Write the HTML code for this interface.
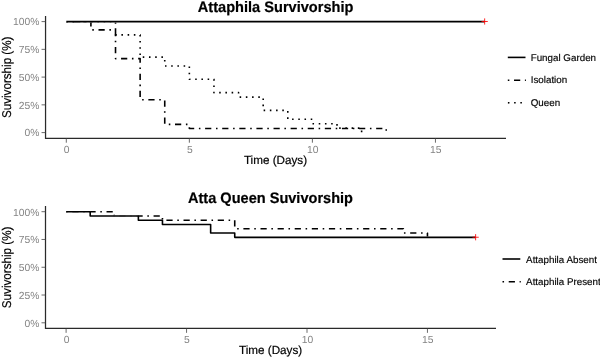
<!DOCTYPE html>
<html><head><meta charset="utf-8"><title>Survivorship</title>
<style>
html,body{margin:0;padding:0;background:#fff;}
svg{display:block;}
text{font-family:"Liberation Sans",Arial,Helvetica,sans-serif;text-rendering:geometricPrecision;}
.title{font-size:15.1px;font-weight:bold;fill:#000;stroke:#000;stroke-width:0.2;}
.axl{font-size:11.7px;fill:#000;stroke:#000;stroke-width:0.2;}
.tick{font-size:10.3px;fill:#848484;}
.leg{font-size:9.8px;fill:#000;stroke:#000;stroke-width:0.15;}
.ax{stroke:#2a2a2a;stroke-width:1.25;fill:none;}
.tk{stroke:#444;stroke-width:0.8;fill:none;}
.ln{stroke:#000;stroke-width:1.6;fill:none;stroke-linejoin:round;}
</style></head><body>
<svg width="600" height="357" viewBox="0 0 600 357">
<rect width="600" height="357" fill="#fff"/>

<text class="title" x="275.6" y="12.3" text-anchor="middle" textLength="155.6" lengthAdjust="spacingAndGlyphs">Attaphila Survivorship</text>
<path class="ax" d="M45.55 16.1V138.3H506"/>
<path class="tk" d="M41.55 132.60H45.55"/>
<text class="tick" x="39.44" y="136.40" text-anchor="end">0%</text>
<path class="tk" d="M41.55 104.85H45.55"/>
<text class="tick" x="39.44" y="108.65" text-anchor="end">25%</text>
<path class="tk" d="M41.55 77.10H45.55"/>
<text class="tick" x="39.44" y="80.90" text-anchor="end">50%</text>
<path class="tk" d="M41.55 49.35H45.55"/>
<text class="tick" x="39.44" y="53.15" text-anchor="end">75%</text>
<path class="tk" d="M41.55 21.60H45.55"/>
<text class="tick" x="39.44" y="25.40" text-anchor="end">100%</text>
<path class="tk" d="M66.30 138.3V142.70"/>
<text class="tick" x="66.70" y="152.70" text-anchor="middle">0</text>
<path class="tk" d="M189.35 138.3V142.70"/>
<text class="tick" x="189.75" y="152.70" text-anchor="middle">5</text>
<path class="tk" d="M312.40 138.3V142.70"/>
<text class="tick" x="312.80" y="152.70" text-anchor="middle">10</text>
<path class="tk" d="M435.45 138.3V142.70"/>
<text class="tick" x="435.85" y="152.70" text-anchor="middle">15</text>
<text class="axl" x="275.5" y="163.8" text-anchor="middle">Time (Days)</text>
<text class="axl" style="font-size:12.7px" transform="translate(10.7 77.3) rotate(-90)" text-anchor="middle" textLength="81.6" lengthAdjust="spacingAndGlyphs">Suvivorship (%)</text>
<clipPath id="ct"><rect x="0" y="22.40" width="600" height="200"/></clipPath>
<g clip-path="url(#ct)"><path class="ln" stroke-dasharray="1.555 4.665 6.220 4.665" d="M66.30 21.60 H90.91 V29.83 H115.52 V58.60 H140.13 V99.71 H164.74 V124.37 H189.35 V128.49 H386.23 V132.60"/>
<path class="ln" stroke-dasharray="1.555 4.665" d="M66.30 21.60 H115.52 V34.92 H140.13 V57.12 H164.74 V66.00 H189.35 V79.32 H213.96 V92.64 H238.57 V97.08 H263.18 V110.40 H287.79 V119.28 H312.40 V123.72 H337.01 V128.16 H361.62 V132.60"/></g>
<path class="ln" d="M66.30 21.60 H484.67"/>
<path d="M481.57 21.50H487.77M484.67 18.40V24.60" stroke="#ff0000" stroke-width="0.85" fill="none"/>
<path class="ln" d="M507.8 57.4H525.5"/>
<text class="leg" x="530.7" y="60.8">Fungal Garden</text>
<path class="ln" stroke-dasharray="1.555 4.665 6.220 4.665" d="M507.8 80.2H525.9"/>
<text class="leg" x="530.7" y="83.3">Isolation</text>
<path class="ln" stroke-dasharray="1.555 4.665" d="M507.9 102.8H525.5"/>
<text class="leg" x="530.7" y="106.0">Queen</text>
<text class="title" x="270.5" y="203.2" text-anchor="middle" textLength="165" lengthAdjust="spacingAndGlyphs">Atta Queen Suvivorship</text>
<path class="ax" d="M45.5 206V328.45H496"/>
<path class="tk" d="M41.5 322.80H45.5"/>
<text class="tick" x="39.4" y="326.60" text-anchor="end">0%</text>
<path class="tk" d="M41.5 295.02H45.5"/>
<text class="tick" x="39.4" y="298.82" text-anchor="end">25%</text>
<path class="tk" d="M41.5 267.25H45.5"/>
<text class="tick" x="39.4" y="271.05" text-anchor="end">50%</text>
<path class="tk" d="M41.5 239.47H45.5"/>
<text class="tick" x="39.4" y="243.28" text-anchor="end">75%</text>
<path class="tk" d="M41.5 211.70H45.5"/>
<text class="tick" x="39.4" y="215.50" text-anchor="end">100%</text>
<path class="tk" d="M66.10 328.45V332.84"/>
<text class="tick" x="66.50" y="342.84" text-anchor="middle">0</text>
<path class="tk" d="M186.55 328.45V332.84"/>
<text class="tick" x="186.95" y="342.84" text-anchor="middle">5</text>
<path class="tk" d="M307.00 328.45V332.84"/>
<text class="tick" x="307.40" y="342.84" text-anchor="middle">10</text>
<path class="tk" d="M427.45 328.45V332.84"/>
<text class="tick" x="427.85" y="342.84" text-anchor="middle">15</text>
<text class="axl" x="270.6" y="354" text-anchor="middle">Time (Days)</text>
<text class="axl" style="font-size:12.7px" transform="translate(10.7 267.4) rotate(-90)" text-anchor="middle" textLength="81.6" lengthAdjust="spacingAndGlyphs">Suvivorship (%)</text>
<clipPath id="cb"><path clip-rule="evenodd" d="M0 180H600V357H0Z M0 210.90H90.19V212.50H0Z M113.28 215.18H138.37V216.78H113.28Z M403.36 236.54H451.54V238.14H403.36Z"/></clipPath>
<path class="ln" clip-path="url(#cb)" stroke-dasharray="1.555 4.665 6.220 4.665" d="M66.10 211.70 H114.28 V215.98 H162.46 V220.24 H234.73 V228.79 H403.36 V233.06 H427.45 V237.34"/>
<path class="ln" d="M66.10 211.70 H90.19 V215.98 H138.37 V220.24 H162.46 V224.52 H210.64 V233.06 H234.73 V237.34 H475.63"/>
<path d="M472.53 237.24H478.73M475.63 234.14V240.34" stroke="#ff0000" stroke-width="0.85" fill="none"/>
<path class="ln" d="M502.5 259.0H520.3"/>
<text class="leg" x="526.1" y="262.7">Attaphila Absent</text>
<path class="ln" stroke-dasharray="1.555 4.665 6.220 4.665" d="M502.5 281.8H520.8"/>
<text class="leg" x="526.1" y="285.3">Attaphila Present</text>
</svg></body></html>
